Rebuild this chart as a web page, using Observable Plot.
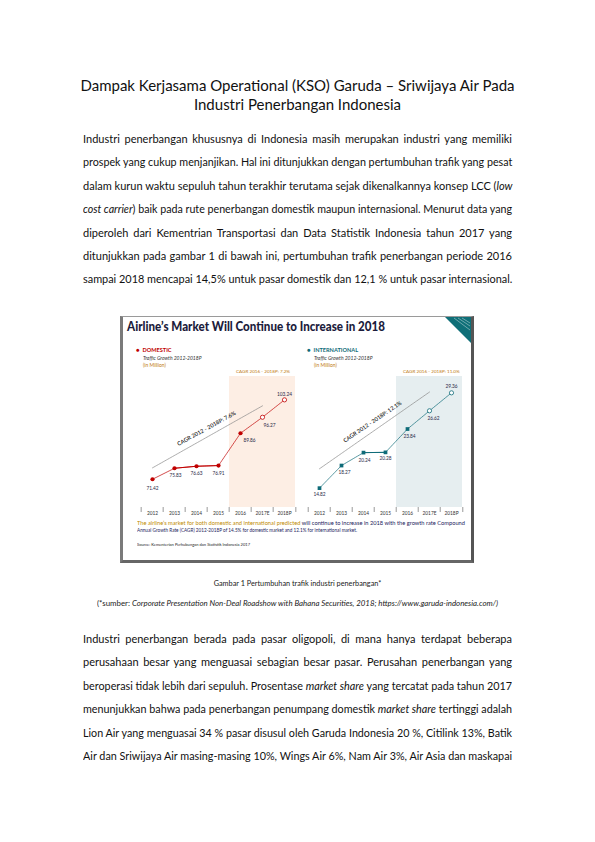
<!DOCTYPE html>
<html>
<head>
<meta charset="utf-8">
<script src="https://cdn.jsdelivr.net/npm/d3@7"></script>
<script src="https://cdn.jsdelivr.net/npm/@observablehq/plot@0.6"></script>
<style>
  html, body { margin: 0; padding: 0; background: #fff; }
  body { width: 595px; height: 842px; position: relative; overflow: hidden; font-family: Lato, "Open Sans", sans-serif; color: #111; }
  .abs { position: absolute; white-space: nowrap; }
  .title { font-size: 15px; left: 0; width: 595px; text-align: center; }
  .line { left: 83px; width: 429px; font-size: 11px; text-align: justify; text-align-last: justify; white-space: nowrap; }
  .line.last { text-align-last: left; }
  .fit { display: inline-block; transform-origin: left center; }
  #frame { position: absolute; left: 120px; top: 316px; width: 348px; height: 243px; border-top: 1px solid #9a9a9a; border-left: 3px solid #7a7a7a; border-right: 3px solid #555; border-bottom: 3px solid #666; background: #fff; }
  .ct { font-family: Lato, "Open Sans", sans-serif; }
</style>
</head>
<body>
<script>
// ---------- data ----------
const years = ["2012", "2013", "2014", "2015", "2016", "2017E", "2018P"];
const domestic = [71.42, 75.83, 76.63, 76.91, 89.86, 96.27, 103.24];
const international = [14.82, 18.27, 20.24, 20.28, 23.84, 26.62, 29.36];
const projectedYears = ["2017E", "2018P"];
const shadedYears = ["2016", "2017E", "2018P"];
const trendYears = ["2012", "2017E"];
const trendDomestic = [75.99, 100.84];
const trendInternational = [17.78, 29.48];
const cagrDomestic = "CAGR 2012 - 2018P: 7.6%";
const cagrInternational = "CAGR 2012 - 2018P: 12.1%";
const cagrProjDomestic = "CAGR 2016 - 2018P: 7.2%";
const cagrProjInternational = "CAGR 2016 - 2018P: 11.0%";

const titleLines = [
  "Dampak Kerjasama Operational (KSO) Garuda \u2013 Sriwijaya Air Pada",
  "Industri Penerbangan Indonesia"
];
const para1 = [
  "Industri penerbangan khususnya di Indonesia masih merupakan industri yang memiliki",
  "prospek yang cukup menjanjikan. Hal ini ditunjukkan dengan pertumbuhan trafik yang pesat",
  "dalam kurun waktu sepuluh tahun terakhir terutama sejak dikenalkannya konsep LCC (<i>low</i>",
  "<i>cost carrier</i>) baik pada rute penerbangan domestik maupun internasional. Menurut data yang",
  "diperoleh dari Kementrian Transportasi dan Data Statistik Indonesia tahun 2017 yang",
  "ditunjukkan pada gambar 1 di bawah ini, pertumbuhan trafik penerbangan periode 2016",
  "sampai 2018 mencapai 14,5% untuk pasar domestik dan 12,1 % untuk pasar internasional."
];
const para2 = [
  "Industri penerbangan berada pada pasar oligopoli, di mana hanya terdapat beberapa",
  "perusahaan besar yang menguasai sebagian besar pasar. Perusahan penerbangan yang",
  "beroperasi tidak lebih dari sepuluh. Prosentase <i>market share</i> yang tercatat pada tahun 2017",
  "menunjukkan bahwa pada penerbangan penumpang domestik <i>market share</i> tertinggi adalah",
  "Lion Air yang menguasai 34 % pasar disusul oleh Garuda Indonesia 20 %, Citilink 13%, Batik",
  "Air dan Sriwijaya Air masing-masing 10%, Wings Air 6%, Nam Air 3%, Air Asia dan maskapai"
];
const captionText = "Gambar 1 Pertumbuhan trafik industri penerbangan*";
const sourceText = "(*sumber: <i>Corporate Presentation Non-Deal Roadshow with Bahana Securities, 2018; https://www.garuda-indonesia.com/)</i>";
const chartTitle = "Airline\u2019s Market Will Continue to Increase in 2018";
const chartNote1a = "The airline\u2019s market for both domestic and international predicted";
const chartNote1b = " will continue to increase in 2018 with the growth rate Compound";
const chartNote2 = "Annual Growth Rate (CAGR) 2012-2018P of 14.5% for domestic market and 12.1% for international market.";
const chartSource = "Source: Kementerian Perhubungan dan Statistik Indonesia 2017";

// ---------- helpers ----------
function addDiv(cls, html, style) {
  const d = document.createElement("div");
  d.className = "abs " + cls;
  d.innerHTML = html;
  Object.assign(d.style, style);
  document.body.appendChild(d);
  return d;
}
function fitWidth(el, target) {
  const w = el.getBoundingClientRect().width;
  if (w > 0) el.style.transform = `scaleX(${target / w})`;
}

// ---------- document text ----------
titleLines.forEach((t, i) => addDiv("title", t, {top: (76 + i * 18.5) + "px"}));
para1.forEach((t, i) => addDiv("line" + (i === para1.length - 1 ? " last" : ""), t, {top: (132 + i * 23.4) + "px"}));
para2.forEach((t, i) => addDiv("line", t, {top: (632 + i * 23.4) + "px"}));
addDiv("", captionText, {left: "0", width: "595px", textAlign: "center", top: "579px", fontSize: "7.3px", color: "#222"});
const src = addDiv("", `<span class="fit">${sourceText}</span>`, {left: "97px", top: "599px", fontSize: "7px", color: "#222"});
fitWidth(src.firstChild, 401);

// shrink any over-long justified line
document.querySelectorAll(".line").forEach(el => {
  const sw = el.scrollWidth;
  if (sw > 430) { el.style.transformOrigin = "left center"; el.style.transform = `scaleX(${429 / sw})`; el.style.width = sw + "px"; }
});

// ---------- chart frame ----------
const frame = document.createElement("div");
frame.id = "frame";
document.body.appendChild(frame);

// corner decoration
const corner = document.createElementNS("http://www.w3.org/2000/svg", "svg");
corner.setAttribute("width", 26); corner.setAttribute("height", 26);
Object.assign(corner.style, {position: "absolute", left: "445px", top: "317px"});
corner.innerHTML = `<polygon points="0,0 26,0 26,26" fill="#0f6f78"/>
<line x1="9" y1="1" x2="25" y2="13" stroke="#fff" stroke-width="0.5" opacity="0.8"/>
<line x1="13" y1="1" x2="25" y2="9" stroke="#fff" stroke-width="0.5" opacity="0.8"/>
<line x1="17" y1="1" x2="25" y2="6" stroke="#fff" stroke-width="0.5" opacity="0.8"/>`;
document.body.appendChild(corner);

const ttl = addDiv("ct", `<span class="fit">${chartTitle}</span>`, {left: "127px", top: "318px", fontSize: "13.5px", fontWeight: "900", color: "#1c1c3c"});
fitWidth(ttl.firstChild, 258);

// legends
function legend(x, color, name) {
  addDiv("ct", `<span style="color:${color};font-size:6px">\u25CF</span>&nbsp;&nbsp;<b style="color:${color}">${name}</b>`, {left: x + "px", top: "346px", fontSize: "5.6px"});
  addDiv("ct", "<i>Traffic Growth 2012-2018P</i>", {left: (x + 7) + "px", top: "355px", fontSize: "5px", color: "#333"});
  addDiv("ct", "(in Million)", {left: (x + 7) + "px", top: "362px", fontSize: "5px", color: "#c07a10"});
}
legend(136, "#c00000", "DOMESTIC");
legend(307, "#0e6b78", "INTERNATIONAL");
addDiv("ct", cagrProjDomestic, {left: "236px", top: "367.5px", fontSize: "4.6px", color: "#c07a10"});
addDiv("ct", cagrProjInternational, {left: "403px", top: "367.5px", fontSize: "4.6px", color: "#c07a10"});

// notes
addDiv("ct", `<span class="fit"><span style="color:#c08a00">${chartNote1a}</span><span style="color:#1c1c5c">${chartNote1b}</span></span>`, {left: "137px", top: "520px", fontSize: "5.4px"});
fitWidth(document.body.lastChild.firstChild, 328);
addDiv("ct", `<span class="fit" style="color:#1c1c5c">${chartNote2}</span>`, {left: "137px", top: "527px", fontSize: "5.4px"});
fitWidth(document.body.lastChild.firstChild, 220);
addDiv("ct", `<span class="fit" style="color:#222">${chartSource}</span>`, {left: "137px", top: "541px", fontSize: "4.6px"});
fitWidth(document.body.lastChild.firstChild, 113);

// ---------- panels ----------
function panel(cfg) {
  const data = years.map((y, i) => ({year: y, value: cfg.values[i], label: cfg.values[i].toFixed(2)}));
  const actual = data.filter(d => !projectedYears.includes(d.year));
  const proj = data.filter(d => projectedYears.includes(d.year));
  const trend = trendYears.map((y, i) => ({year: y, value: cfg.trend[i]}));
  const [lo, hi] = cfg.yDomain;
  const bw = cfg.plotWidth / years.length;
  const labelMarks = data.map(d => {
    const [dx, dy] = cfg.labelOffsets[d.year];
    return Plot.text([d], {x: "year", y: "value", text: "label", dx, dy, fontSize: 4.8, fill: "#2a2a48"});
  });
  const svg = Plot.plot({
    width: cfg.width, height: 152,
    marginLeft: cfg.marginLeft, marginRight: cfg.width - cfg.marginLeft - cfg.plotWidth,
    marginTop: 6, marginBottom: 15,
    style: {fontFamily: "Lato, 'Open Sans', sans-serif", background: "transparent", overflow: "visible"},
    x: {type: "band", domain: years, padding: 0, label: null},
    y: {domain: cfg.yDomain, axis: null, label: null},
    marks: [
      Plot.barY(shadedYears, {x: d => d, y1: () => lo, y2: () => hi, fill: cfg.shade, insetLeft: 0, insetRight: 0}),
      Plot.axisX({tickSize: 0, tickPadding: 4.5, fontSize: 4.8, fill: "#333", label: null}),
      Plot.axisX({tickSize: 5, text: null, stroke: "#999", dx: -bw / 2, label: null}),
      Plot.axisX(["2018P"], {tickSize: 5, text: null, stroke: "#999", dx: bw / 2, label: null}),
      Plot.line(trend, {x: "year", y: "value", stroke: "#888", strokeWidth: 0.7, strokeDasharray: "1,0.8"}),
      Plot.text([cfg.cagr], {x: () => "2014", y: () => cfg.cagrY, dx: cfg.cagrDx, rotate: cfg.cagrRotate, fontSize: 5.6, fill: "#222", fontWeight: 600}),
      Plot.line(data, {x: "year", y: "value", stroke: cfg.color, strokeWidth: 0.7, strokeDasharray: "1.4,0.8"}),
      Plot.line(data.filter(d => cfg.solid.includes(d.year)), {x: "year", y: "value", stroke: cfg.color, strokeWidth: cfg.solidWidth}),
      Plot.dot(actual, {x: "year", y: "value", symbol: cfg.symbol, r: 2.1, fill: cfg.color}),
      Plot.dot(proj, {x: "year", y: "value", symbol: "circle", r: 2.1, fill: "white", stroke: cfg.color, strokeWidth: 0.8}),
      ...labelMarks
    ]
  });
  Object.assign(svg.style, {position: "absolute", left: cfg.left + "px", top: "370px"});
  document.body.appendChild(svg);
}

panel({
  values: domestic, trend: trendDomestic, yDomain: [60.1, 112.6],
  color: "#c00000", shade: "#fdeee4", symbol: "circle",
  left: 130, width: 175, marginLeft: 9, plotWidth: 158.7,
  solid: ["2013", "2014", "2015"], solidWidth: 1.0,
  cagr: cagrDomestic, cagrY: 91.74, cagrDx: 10, cagrRotate: -28.9,
  labelOffsets: {"2012": [0, 9], "2013": [1, 7.5], "2014": [0, 7], "2015": [0, 7.5], "2016": [9, 7], "2017E": [7, 8], "2018P": [0, -5.5]}
});
panel({
  values: international, trend: trendInternational, yDomain: [11.87, 31.85],
  color: "#0e6b78", shade: "#e6eef0", symbol: "square",
  left: 297, width: 175, marginLeft: 9, plotWidth: 158,
  solid: ["2014", "2015"], solidWidth: 1.0,
  cagr: cagrInternational, cagrY: 24.93, cagrDx: 9, cagrRotate: -34.2,
  labelOffsets: {"2012": [0, 6], "2013": [3, 7], "2014": [1, 8], "2015": [0, 6], "2016": [2, 7], "2017E": [4, 8], "2018P": [0, -6]}
});
</script>
</body>
</html>
